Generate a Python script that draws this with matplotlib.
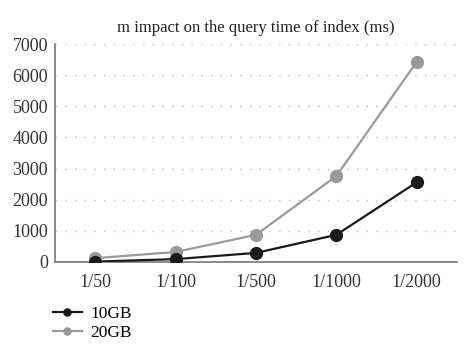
import matplotlib
matplotlib.use("Agg")
import matplotlib.pyplot as plt

plt.rcParams['font.family'] = ['Liberation Serif', 'DejaVu Serif']

categories = ["1/50", "1/100", "1/500", "1/1000", "1/2000"]
gb10 = [10, 90, 290, 870, 2560]
gb20 = [120, 320, 870, 2760, 6430]
yticks = [0, 1000, 2000, 3000, 4000, 5000, 6000, 7000]

fig = plt.figure(figsize=(4.74, 3.53), dpi=100)
ax = fig.add_axes([0.116, 0.258, 0.848, 0.617])

x = list(range(len(categories)))
ax.plot(x, gb10, color="#1a1a1a", marker="o", markersize=8.5, linewidth=1.6,
        label="10GB", zorder=4)
ax.plot(x, gb20, color="#9a9a9a", marker="o", markersize=8.5, linewidth=1.6,
        label="20GB", zorder=3)

ax.set_xlim(-0.5, 4.5)
ax.set_ylim(0, 7000)
ax.set_yticks(yticks)
ax.set_xticks(x)
ax.set_xticklabels(categories)
ax.tick_params(length=0, labelsize=13, colors="#333333", pad=5)
ax.tick_params(axis="x", pad=9)

ax.grid(axis="y", linestyle=(0, (1, 6)), color="#bbbbbb", linewidth=1.0)
ax.set_axisbelow(True)
for s in ["top", "right"]:
    ax.spines[s].set_visible(False)
for s in ["left", "bottom"]:
    ax.spines[s].set_color("#777777")
    ax.spines[s].set_linewidth(1.2)

ax.set_title("m impact on the query time of index (ms)", fontsize=12,
             color="#222222", pad=9)

ax.legend(loc="upper left", bbox_to_anchor=(-0.045, -0.13), frameon=False,
          fontsize=12.5, handlelength=1.7, handletextpad=0.5, labelspacing=0.15,
          markerscale=0.6)

fig.savefig("out.png", dpi=100)
